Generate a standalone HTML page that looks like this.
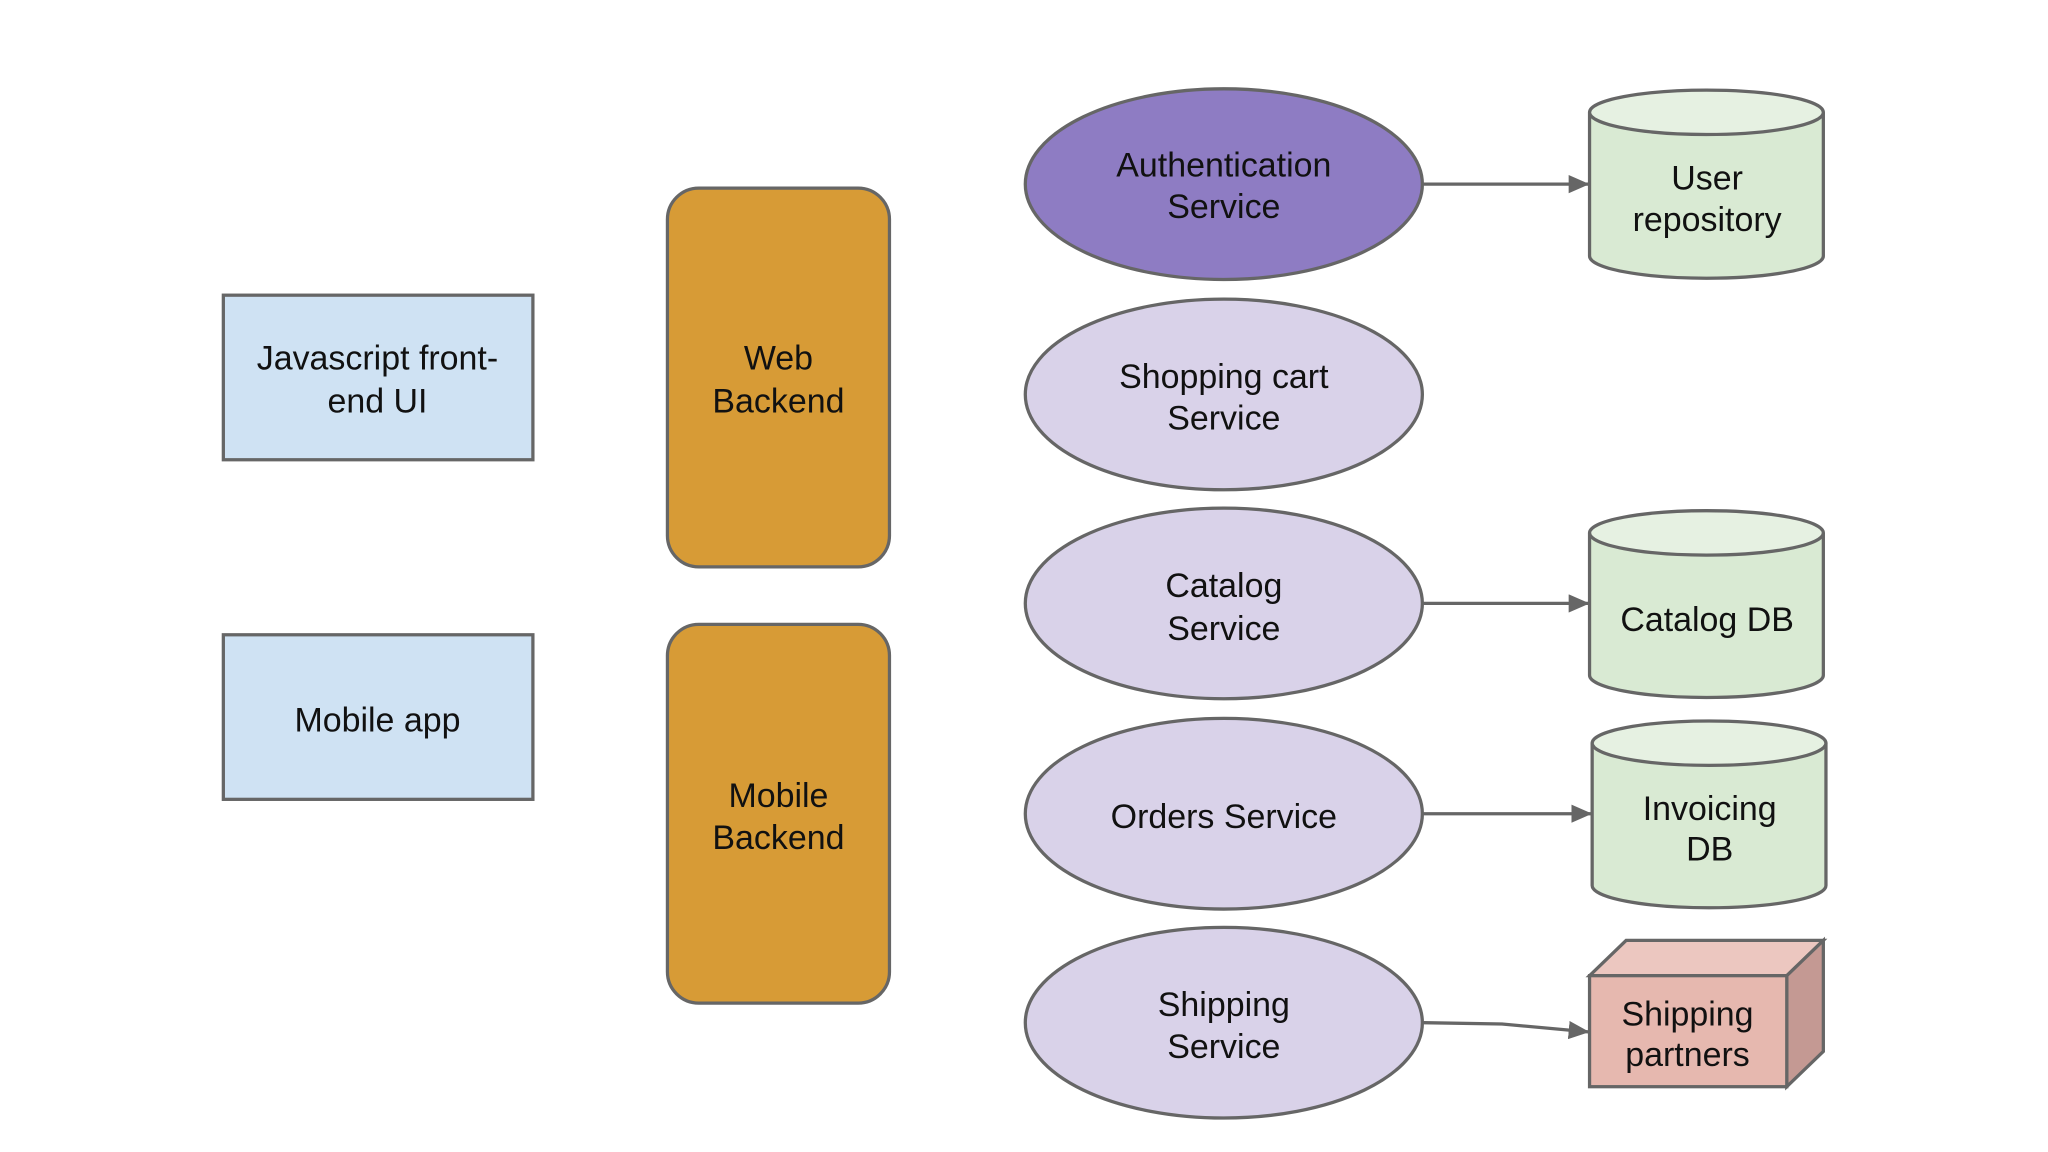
<!DOCTYPE html>
<html><head><meta charset="utf-8"><style>
html,body{margin:0;padding:0;background:#fff;width:2048px;height:1152px;overflow:hidden}
svg{display:block}
text{font-family:"Liberation Sans",sans-serif;font-size:26px;fill:#111;text-anchor:middle}
</style></head><body>
<svg width="2048" height="1152" viewBox="0 0 1568 882" xmlns="http://www.w3.org/2000/svg">
<defs><marker id="a" markerWidth="16" markerHeight="14" refX="15" refY="7" orient="auto" markerUnits="userSpaceOnUse"><path d="M0,0 L16,7 L0,14 z" fill="#666"/></marker></defs>
<g stroke="#666" stroke-width="2.5">
<rect x="171" y="226" width="237" height="126" fill="#cfe2f3"/>
<rect x="171" y="486" width="237" height="126" fill="#cfe2f3"/>
<rect x="511" y="144" width="170" height="290" rx="24" fill="#d79b36"/>
<rect x="511" y="478" width="170" height="290" rx="24" fill="#d79b36"/>
<ellipse cx="937" cy="141" rx="152" ry="73" fill="#8e7cc3"/>
<ellipse cx="937" cy="302" rx="152" ry="73" fill="#d9d2e9"/>
<ellipse cx="937" cy="462" rx="152" ry="73" fill="#d9d2e9"/>
<ellipse cx="937" cy="623" rx="152" ry="73" fill="#d9d2e9"/>
<ellipse cx="937" cy="783" rx="152" ry="73" fill="#d9d2e9"/>
<path d="M1217,86 L1217,196 A89.5,17 0 0 0 1396,196 L1396,86" fill="#d9ead3"/>
<ellipse cx="1306.5" cy="86" rx="89.5" ry="17" fill="#e6f1e2"/>
<path d="M1217,408 L1217,517 A89.5,17 0 0 0 1396,517 L1396,408" fill="#d9ead3"/>
<ellipse cx="1306.5" cy="408" rx="89.5" ry="17" fill="#e6f1e2"/>
<path d="M1219,569 L1219,678 A89.5,17 0 0 0 1398,678 L1398,569" fill="#d9ead3"/>
<ellipse cx="1308.5" cy="569" rx="89.5" ry="17" fill="#e6f1e2"/>
<path d="M1217,747 L1245,720 L1396,720 L1368,747 z" fill="#ecc7c0"/>
<path d="M1368,747 L1396,720 L1396,805 L1368,832 z" fill="#c49993"/>
<rect x="1217" y="747" width="151" height="85" fill="#e6b8af"/>
</g>
<g stroke="#666" stroke-width="2.5" fill="none" marker-end="url(#a)">
<line x1="1090" y1="141" x2="1216" y2="141"/>
<line x1="1090" y1="462" x2="1216" y2="462"/>
<line x1="1090" y1="623" x2="1218" y2="623"/>
<path d="M1090,783 L1150,784 L1216,790"/>
</g>
<text x="289" y="283">Javascript front-</text><text x="289" y="316">end UI</text>
<text x="289" y="560">Mobile app</text>
<text x="596" y="283">Web</text><text x="596" y="316">Backend</text>
<text x="596" y="618">Mobile</text><text x="596" y="650">Backend</text>
<text x="937" y="135">Authentication</text><text x="937" y="167">Service</text>
<text x="937" y="297">Shopping cart</text><text x="937" y="329">Service</text>
<text x="937" y="457">Catalog</text><text x="937" y="490">Service</text>
<text x="937" y="634">Orders Service</text>
<text x="937" y="778">Shipping</text><text x="937" y="810">Service</text>
<text x="1307" y="145">User</text><text x="1307" y="177">repository</text>
<text x="1307" y="483">Catalog DB</text>
<text x="1309" y="628">Invoicing</text><text x="1309" y="659">DB</text>
<text x="1292" y="785">Shipping</text><text x="1292" y="816">partners</text>
</svg>
</body></html>
